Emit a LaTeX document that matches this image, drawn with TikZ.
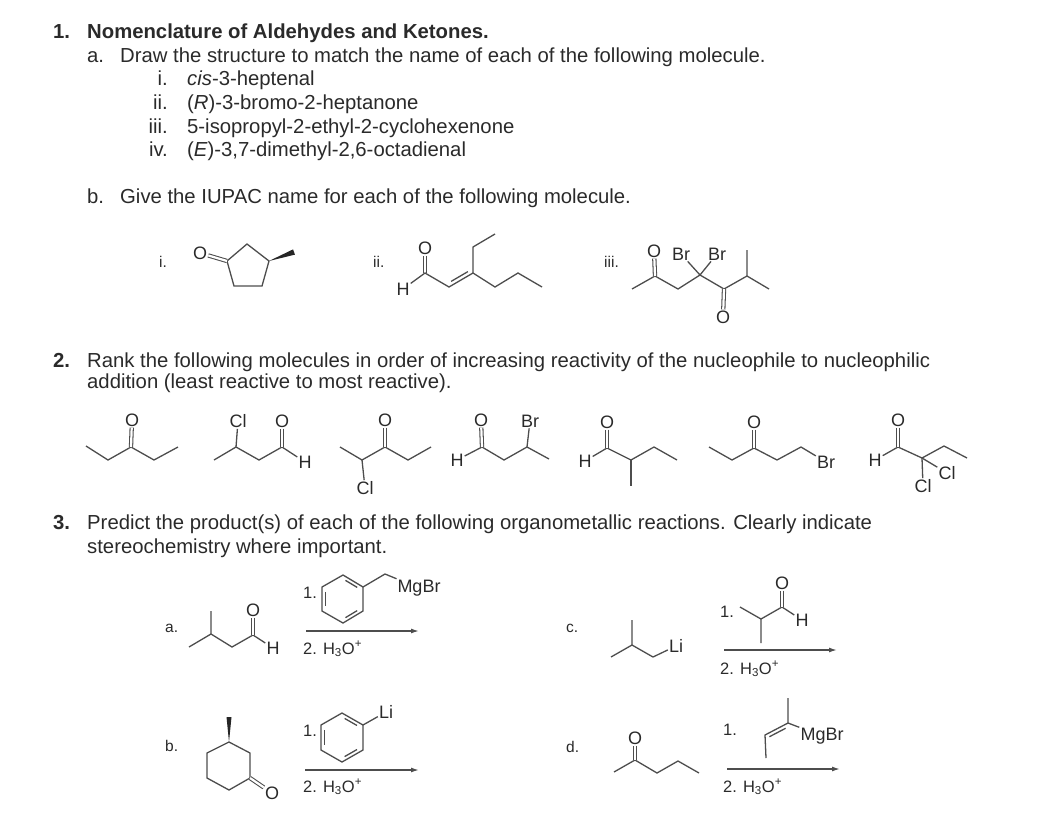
\documentclass[tikz,border=0pt]{standalone}
\usepackage{fontspec}
\setmainfont{Liberation Sans}
\usetikzlibrary{arrows.meta,calc}
\definecolor{ink}{HTML}{2A2A2A}
\definecolor{bondgray}{HTML}{4D4D4D}
\tikzset{
  txt/.style={anchor=base west,inner sep=0pt,text=ink,font=\fontsize{20.3}{24}\selectfont},
  num/.style={txt,anchor=base east},
  small/.style={anchor=base west,inner sep=0pt,text=ink,font=\fontsize{15.5}{18}\selectfont},
  atom/.style={inner sep=1pt,text=ink,font=\fontsize{18}{21}\selectfont},
  reagent/.style={anchor=base west,inner sep=0pt,text=ink,font=\fontsize{16.5}{19}\selectfont},
  bond/.style={draw=bondgray,line width=1.3pt},
  dbl/.style={bond,double=white,double distance=2.2pt,line width=1.05pt},
  rxn/.style={draw=bondgray,line width=1.4pt,-{Latex[length=8pt,width=5pt]}},
  wedge/.style={fill=black!85}
}
\newcommand{\water}{2. H\textsubscript{3}O\textsuperscript{+}}
\begin{document}
\begin{tikzpicture}[x=1pt,y=-1pt]
  \useasboundingbox (0,0) rectangle (1062,814);

  % question text
  \node[txt,font=\fontsize{20.3}{24}\selectfont\bfseries] (q1n) at (53,38) {1.};
  \node[txt,font=\fontsize{20.3}{24}\selectfont\bfseries] (q1) at (87,38) {Nomenclature of Aldehydes and Ketones.};
  \node[txt] (q1an) at (87,62) {a.};
  \node[txt] (q1a) at (120,62) {Draw the structure to match the name of each of the following molecule.};
  \node[num] (n1l) at (168,85) {i.};
  \node[txt] (n1) at (187,85) {\itshape cis\upshape -3-heptenal};
  \node[num] (n2l) at (168,109) {ii.};
  \node[txt] (n2) at (187,109) {(\textit{R})-3-bromo-2-heptanone};
  \node[num] (n3l) at (168,133) {iii.};
  \node[txt] (n3) at (187,133) {5-isopropyl-2-ethyl-2-cyclohexenone};
  \node[num] (n4l) at (168,156) {iv.};
  \node[txt] (n4) at (187,156) {(\textit{E})-3,7-dimethyl-2,6-octadienal};
  \node[txt] (q1bn) at (87,203) {b.};
  \node[txt] (q1b) at (120,203) {Give the IUPAC name for each of the following molecule.};
  \node[txt] (q2n) at (53,367) {\bfseries 2.};
  \node[txt] (q2) at (87,367) {Rank the following molecules in order of increasing reactivity of the nucleophile to nucleophilic};
  \node[txt] (q2b) at (87,388) {addition (least reactive to most reactive).};
  \node[txt] (q3n) at (53,529) {\bfseries 3.};
  \node[txt] (q3) at (87,529) {Predict the product(s) of each of the following organometallic reactions. Clearly indicate};
  \node[txt] (q3b) at (87,553) {stereochemistry where important.};

  % part b labels
  \node[small] (bi) at (159,267) {i.};
  \node[small] (bii) at (373,267) {ii.};
  \node[small] (biii) at (604,267) {iii.};

  % b.i
  \node[atom] (bo) at (200,253) {O};
  \coordinate (c1) at (227,261);
  \coordinate (c2) at (247,244);
  \coordinate (c3) at (269,261);
  \coordinate (c4) at (262,286);
  \coordinate (c5) at (234,286);
  \coordinate (c6) at (294,252);
  \draw[bond] (c1) -- (c2) -- (c3) -- (c4) -- (c5) -- cycle;
  \draw[dbl] (bo) -- (c1);
  \fill[wedge] (c3) -- ($(c6)!2.8pt!90:(c3)$) -- ($(c6)!2.8pt!-90:(c3)$) -- cycle;

  % b.ii
  \node[atom] (d1) at (425,248) {O};
  \node[atom] (d2) at (403,289) {H};
  \coordinate (d3) at (425,273);
  \coordinate (d4) at (449,287);
  \coordinate (d5) at (473,273);
  \coordinate (d6) at (473,247);
  \coordinate (d7) at (495,234);
  \coordinate (d8) at (495,287);
  \coordinate (d9) at (518,273);
  \coordinate (d10) at (542,287);
  \draw[dbl] (d1) -- (d3);
  \draw[bond] (d2) -- (d3) -- (d4) -- (d5) -- (d6) -- (d7);
  \draw[bond] (d5) -- (d8) -- (d9) -- (d10);
  \draw[bond] ($(d4)!.15!(d5)+(-1.5,-3.5)$) -- ($(d4)!.85!(d5)+(-1.5,-3.5)$);

  % b.iii
  \node[atom] (e1) at (654,251) {O};
  \node[atom] (e2) at (681,254) {Br};
  \node[atom] (e3) at (717,254) {Br};
  \node[atom] (e4) at (723,317) {O};
  \coordinate (e5) at (632,289);
  \coordinate (e6) at (655,276);
  \coordinate (e7) at (678,289);
  \coordinate (e8) at (700,275);
  \coordinate (e9) at (724,289);
  \coordinate (e10) at (747,276);
  \coordinate (e11) at (747,250);
  \coordinate (e12) at (769,289);
  \draw[bond] (e5) -- (e6) -- (e7) -- (e8) -- (e9) -- (e10) -- (e11);
  \draw[bond] (e10) -- (e12);
  \draw[bond] (e8) -- (e2);
  \draw[bond] (e8) -- (e3);
  \draw[dbl] (e1) -- (e6);
  \draw[dbl] (e4) -- (e9);

  % row of seven molecules
  \node[atom] (f1) at (132,420) {O};
  \coordinate (f2) at (86,446);
  \coordinate (f3) at (108,460);
  \coordinate (f4) at (131,447);
  \coordinate (f5) at (154,460);
  \coordinate (f6) at (178,447);
  \draw[bond] (f2) -- (f3) -- (f4) -- (f5) -- (f6);
  \draw[dbl] (f1) -- (f4);

  \node[atom] (g1) at (238,421) {Cl};
  \node[atom] (g2) at (282,421) {O};
  \node[atom] (g3) at (305,462) {H};
  \coordinate (g4) at (214,460);
  \coordinate (g5) at (236,447);
  \coordinate (g6) at (259,460);
  \coordinate (g7) at (282,447);
  \draw[bond] (g4) -- (g5) -- (g6) -- (g7) -- (g3);
  \draw[bond] (g5) -- (g1);
  \draw[dbl] (g2) -- (g7);

  \node[atom] (h1) at (385,420) {O};
  \node[atom] (h2) at (365,488) {Cl};
  \coordinate (h3) at (340,447);
  \coordinate (h4) at (362,460);
  \coordinate (h5) at (385,447);
  \coordinate (h6) at (408,460);
  \coordinate (h7) at (431,447);
  \draw[bond] (h3) -- (h4) -- (h5) -- (h6) -- (h7);
  \draw[bond] (h4) -- (h2);
  \draw[dbl] (h1) -- (h5);

  \node[atom] (k1) at (481,420) {O};
  \node[atom] (k2) at (457,460) {H};
  \node[atom] (k3) at (530,421) {Br};
  \coordinate (k4) at (482,447);
  \coordinate (k5) at (504,460);
  \coordinate (k6) at (527,447);
  \coordinate (k7) at (549,459);
  \draw[bond] (k2) -- (k4) -- (k5) -- (k6) -- (k7);
  \draw[bond] (k6) -- (k3);
  \draw[dbl] (k1) -- (k4);

  \node[atom] (l1) at (607,422) {O};
  \node[atom] (l2) at (585,461) {H};
  \coordinate (l3) at (607,448);
  \coordinate (l4) at (631,460);
  \coordinate (l5) at (654,447);
  \coordinate (l6) at (677,460);
  \coordinate (l7) at (631,486);
  \draw[bond] (l2) -- (l3) -- (l4) -- (l5) -- (l6);
  \draw[bond] (l4) -- (l7);
  \draw[dbl] (l1) -- (l3);

  \node[atom] (m1) at (754,422) {O};
  \node[atom] (m2) at (826,462) {Br};
  \coordinate (m3) at (709,447);
  \coordinate (m4) at (732,460);
  \coordinate (m5) at (754,448);
  \coordinate (m6) at (777,460);
  \coordinate (m7) at (801,447);
  \draw[bond] (m3) -- (m4) -- (m5) -- (m6) -- (m7) -- (m2);
  \draw[dbl] (m1) -- (m5);

  \node[atom] (p1) at (898,420) {O};
  \node[atom] (p2) at (875,460) {H};
  \node[atom] (p3) at (947,473) {Cl};
  \node[atom] (p4) at (923,486) {Cl};
  \coordinate (p5) at (898,447);
  \coordinate (p6) at (922,458);
  \coordinate (p7) at (944,446);
  \coordinate (p8) at (967,458);
  \draw[bond] (p2) -- (p5) -- (p6) -- (p7) -- (p8);
  \draw[bond] (p6) -- (p3);
  \draw[bond] (p6) -- (p4);
  \draw[dbl] (p1) -- (p5);

  % reaction a
  \node[small] (ra) at (165,632) {a.};
  \node[atom] (s1) at (253,610) {O};
  \node[atom] (s2) at (273,648) {H};
  \coordinate (s3) at (189,647);
  \coordinate (s4) at (211,634);
  \coordinate (s5) at (211,611);
  \coordinate (s6) at (232,647);
  \coordinate (s7) at (253,635);
  \draw[bond] (s3) -- (s4) -- (s5);
  \draw[bond] (s4) -- (s6) -- (s7) -- (s2);
  \draw[dbl] (s1) -- (s7);
  \node[reagent] (a1) at (303,598) {1.};
  \coordinate (t1) at (343,575);
  \coordinate (t2) at (363,587);
  \coordinate (t3) at (363,611);
  \coordinate (t4) at (343,623);
  \coordinate (t5) at (322,611);
  \coordinate (t6) at (322,587);
  \coordinate (tc) at (342.5,599);
  \draw[bond] (t1) -- (t2) -- (t3) -- (t4) -- (t5) -- (t6) -- cycle;
  \foreach \u/\v in {t1/t2,t3/t4,t5/t6}
    \draw[bond] ($(\u)!.85!(\v)!.16!(tc)$) -- ($(\v)!.85!(\u)!.16!(tc)$);
  \node[atom] (t7) at (419,588) {MgBr};
  \coordinate (t8) at (385,574);
  \draw[bond] (t2) -- (t8) -- (t7);
  \coordinate (a2) at (306,631);
  \coordinate (a3) at (419,631);
  \draw[rxn] (a2) -- (a3);
  \node[reagent] (a4) at (303,654) {\water};

  % reaction b
  \node[small] (rb) at (165,751) {b.};
  \coordinate (u1) at (229,717);
  \coordinate (v1) at (229,742);
  \coordinate (v2) at (250,753);
  \coordinate (v3) at (250,778);
  \coordinate (v4) at (229,790);
  \coordinate (v5) at (207,778);
  \coordinate (v6) at (207,753);
  \draw[bond] (v1) -- (v2) -- (v3) -- (v4) -- (v5) -- (v6) -- cycle;
  \node[atom] (u2) at (272,793) {O};
  \draw[dbl] (v3) -- (u2);
  \fill[wedge] (v1) -- ($(u1)!2.5pt!90:(v1)$) -- ($(u1)!2.5pt!-90:(v1)$) -- cycle;
  \node[reagent] (b1) at (303,736) {1.};
  \coordinate (w1) at (342,713);
  \coordinate (w2) at (363,725);
  \coordinate (w3) at (363,750);
  \coordinate (w4) at (342,762);
  \coordinate (w5) at (321,750);
  \coordinate (w6) at (321,725);
  \coordinate (wc) at (342,737.5);
  \draw[bond] (w1) -- (w2) -- (w3) -- (w4) -- (w5) -- (w6) -- cycle;
  \foreach \u/\v in {w1/w2,w3/w4,w5/w6}
    \draw[bond] ($(\u)!.85!(\v)!.16!(wc)$) -- ($(\v)!.85!(\u)!.16!(wc)$);
  \node[atom] (w7) at (386,712) {Li};
  \draw[bond] (w2) -- (w7);
  \coordinate (b2) at (305,770);
  \coordinate (b3) at (419,770);
  \draw[rxn] (b2) -- (b3);
  \node[reagent] (b4) at (303,792) {\water};

  % reaction c
  \node[small] (rc) at (566,632) {c.};
  \node[atom] (x1) at (676,646) {Li};
  \coordinate (x2) at (611,657);
  \coordinate (x3) at (632,645);
  \coordinate (x4) at (632,620);
  \coordinate (x5) at (653,657);
  \draw[bond] (x2) -- (x3) -- (x4);
  \draw[bond] (x3) -- (x5) -- (x1);
  \node[reagent] (c11) at (720,617) {1.};
  \node[atom] (y1) at (782,583) {O};
  \node[atom] (y2) at (802,620) {H};
  \coordinate (y3) at (740,607);
  \coordinate (y4) at (761,619);
  \coordinate (y5) at (761,643);
  \coordinate (y6) at (782,607);
  \draw[bond] (y3) -- (y4) -- (y5);
  \draw[bond] (y4) -- (y6) -- (y2);
  \draw[dbl] (y1) -- (y6);
  \coordinate (c12) at (724,650);
  \coordinate (c13) at (837,650);
  \draw[rxn] (c12) -- (c13);
  \node[reagent] (c14) at (720,674) {\water};

  % reaction d
  \node[small] (rd) at (566,752) {d.};
  \node[atom] (z1) at (635,738) {O};
  \coordinate (z2) at (614,772);
  \coordinate (z3) at (635,760);
  \coordinate (z4) at (657,773);
  \coordinate (z5) at (678,761);
  \coordinate (z6) at (699,773);
  \draw[bond] (z2) -- (z3) -- (z4) -- (z5) -- (z6);
  \draw[dbl] (z1) -- (z3);
  \node[reagent] (d11) at (723,735) {1.};
  \node[atom] (r1) at (822,736) {MgBr};
  \coordinate (r2) at (788,698);
  \coordinate (r3) at (788,723);
  \coordinate (r4) at (765,735);
  \coordinate (r5) at (766,758);
  \draw[bond] (r2) -- (r3) -- (r1);
  \draw[bond] (r3) -- (r4) -- (r5);
  \draw[bond] ($(r4)!.15!(r3)+(1,3.5)$) -- ($(r4)!.85!(r3)+(1,3.5)$);
  \coordinate (d12) at (727,769);
  \coordinate (d13) at (840,769);
  \draw[rxn] (d12) -- (d13);
  \node[reagent] (d14) at (723,792) {\water};
\end{tikzpicture}
\end{document}
